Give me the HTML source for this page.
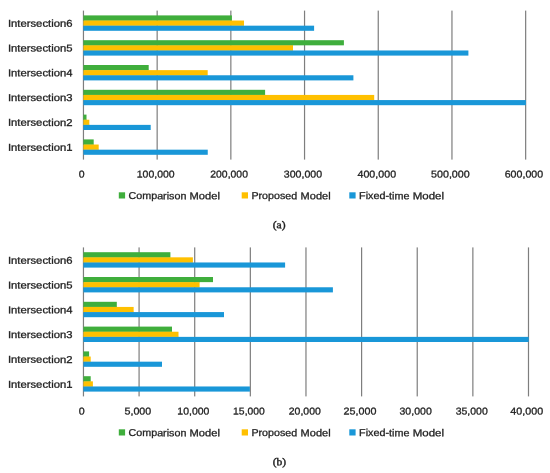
<!DOCTYPE html><html><head><meta charset="utf-8"><title>Figure</title><style>html,body{margin:0;padding:0;background:#fff}svg{display:block}text{font-family:"Liberation Sans",sans-serif;fill:#1f1f1f;stroke:#1f1f1f;stroke-width:0.3px}.s{font-family:"Liberation Serif",serif;stroke-width:0.4px}</style></head><body>
<svg width="550" height="473" viewBox="0 0 550 473">
<rect width="550" height="473" fill="#fff"/>
<rect x="82.85" y="10.60" width="1.2" height="149.00" fill="#7e7e7e"/>
<rect x="156.55" y="10.60" width="1.2" height="149.00" fill="#7e7e7e"/>
<rect x="230.25" y="10.60" width="1.2" height="149.00" fill="#7e7e7e"/>
<rect x="303.95" y="10.60" width="1.2" height="149.00" fill="#7e7e7e"/>
<rect x="377.65" y="10.60" width="1.2" height="149.00" fill="#7e7e7e"/>
<rect x="451.35" y="10.60" width="1.2" height="149.00" fill="#7e7e7e"/>
<rect x="525.05" y="10.60" width="1.2" height="149.00" fill="#7e7e7e"/>
<rect x="83.40" y="20.23" width="148.50" height="0.60" fill="#3FAE3C"/>
<rect x="83.40" y="15.40" width="148.50" height="5.13" fill="#3FAE3C"/>
<rect x="83.40" y="25.37" width="160.60" height="0.60" fill="#FFC000"/>
<rect x="83.40" y="20.53" width="160.60" height="5.13" fill="#FFC000"/>
<rect x="83.40" y="25.67" width="230.70" height="5.13" fill="#1997D8"/>
<text transform="translate(7.90 26.65) skewY(0.05)" font-size="10.00" textLength="64.60" lengthAdjust="spacingAndGlyphs">Intersection6</text>
<rect x="83.40" y="45.03" width="209.60" height="0.60" fill="#3FAE3C"/>
<rect x="83.40" y="40.20" width="260.50" height="5.13" fill="#3FAE3C"/>
<rect x="83.40" y="50.17" width="209.60" height="0.60" fill="#FFC000"/>
<rect x="83.40" y="45.33" width="209.60" height="5.13" fill="#FFC000"/>
<rect x="83.40" y="50.47" width="385.00" height="5.13" fill="#1997D8"/>
<text transform="translate(7.90 51.45) skewY(0.05)" font-size="10.00" textLength="64.60" lengthAdjust="spacingAndGlyphs">Intersection5</text>
<rect x="83.40" y="69.83" width="65.30" height="0.60" fill="#3FAE3C"/>
<rect x="83.40" y="65.00" width="65.30" height="5.13" fill="#3FAE3C"/>
<rect x="83.40" y="74.97" width="124.30" height="0.60" fill="#FFC000"/>
<rect x="83.40" y="70.13" width="124.30" height="5.13" fill="#FFC000"/>
<rect x="83.40" y="75.27" width="270.00" height="5.13" fill="#1997D8"/>
<text transform="translate(7.90 76.25) skewY(0.05)" font-size="10.00" textLength="64.60" lengthAdjust="spacingAndGlyphs">Intersection4</text>
<rect x="83.40" y="94.63" width="181.70" height="0.60" fill="#3FAE3C"/>
<rect x="83.40" y="89.80" width="181.70" height="5.13" fill="#3FAE3C"/>
<rect x="83.40" y="99.77" width="290.80" height="0.60" fill="#FFC000"/>
<rect x="83.40" y="94.93" width="290.80" height="5.13" fill="#FFC000"/>
<rect x="83.40" y="100.07" width="442.50" height="5.13" fill="#1997D8"/>
<text transform="translate(7.90 101.05) skewY(0.05)" font-size="10.00" textLength="64.60" lengthAdjust="spacingAndGlyphs">Intersection3</text>
<rect x="83.40" y="119.43" width="3.10" height="0.60" fill="#3FAE3C"/>
<rect x="83.40" y="114.60" width="3.10" height="5.13" fill="#3FAE3C"/>
<rect x="83.40" y="124.57" width="5.90" height="0.60" fill="#FFC000"/>
<rect x="83.40" y="119.73" width="5.90" height="5.13" fill="#FFC000"/>
<rect x="83.40" y="124.87" width="67.30" height="5.13" fill="#1997D8"/>
<text transform="translate(7.90 125.85) skewY(0.05)" font-size="10.00" textLength="64.60" lengthAdjust="spacingAndGlyphs">Intersection2</text>
<rect x="83.40" y="144.23" width="10.30" height="0.60" fill="#3FAE3C"/>
<rect x="83.40" y="139.40" width="10.30" height="5.13" fill="#3FAE3C"/>
<rect x="83.40" y="149.37" width="15.30" height="0.60" fill="#FFC000"/>
<rect x="83.40" y="144.53" width="15.30" height="5.13" fill="#FFC000"/>
<rect x="83.40" y="149.67" width="124.35" height="5.13" fill="#1997D8"/>
<text transform="translate(7.90 150.65) skewY(0.05)" font-size="10.00" textLength="64.60" lengthAdjust="spacingAndGlyphs">Intersection1</text>
<text transform="translate(78.85 177.55) skewY(0.05)" font-size="10.00" textLength="5.85" lengthAdjust="spacingAndGlyphs">0</text>
<text transform="translate(136.75 177.55) skewY(0.05)" font-size="10.00" textLength="37.95" lengthAdjust="spacingAndGlyphs">100,000</text>
<text transform="translate(210.25 177.55) skewY(0.05)" font-size="10.00" textLength="37.70" lengthAdjust="spacingAndGlyphs">200,000</text>
<text transform="translate(283.75 177.55) skewY(0.05)" font-size="10.00" textLength="38.45" lengthAdjust="spacingAndGlyphs">300,000</text>
<text transform="translate(357.45 177.55) skewY(0.05)" font-size="10.00" textLength="38.65" lengthAdjust="spacingAndGlyphs">400,000</text>
<text transform="translate(430.95 177.55) skewY(0.05)" font-size="10.00" textLength="38.85" lengthAdjust="spacingAndGlyphs">500,000</text>
<text transform="translate(504.65 177.55) skewY(0.05)" font-size="10.00" textLength="38.55" lengthAdjust="spacingAndGlyphs">600,000</text>
<rect x="118.80" y="192.30" width="6.3" height="6.2" fill="#3FAE3C"/>
<text transform="translate(128.50 199.10) skewY(0.05)" font-size="10.00"><tspan x="0.00" textLength="57.90" lengthAdjust="spacingAndGlyphs">Comparison</tspan> <tspan x="61.00" textLength="30.40" lengthAdjust="spacingAndGlyphs">Model</tspan></text>
<rect x="241.70" y="192.30" width="6.3" height="6.2" fill="#FFC000"/>
<text transform="translate(251.40 199.10) skewY(0.05)" font-size="10.00"><tspan x="0.00" textLength="45.80" lengthAdjust="spacingAndGlyphs">Proposed</tspan> <tspan x="49.20" textLength="30.00" lengthAdjust="spacingAndGlyphs">Model</tspan></text>
<rect x="349.30" y="192.30" width="6.3" height="6.2" fill="#1997D8"/>
<text transform="translate(359.10 199.10) skewY(0.05)" font-size="10.00"><tspan x="0.00" textLength="50.40" lengthAdjust="spacingAndGlyphs">Fixed-time</tspan> <tspan x="53.60" textLength="31.40" lengthAdjust="spacingAndGlyphs">Model</tspan></text>
<text class="s" transform="translate(272.70 228.15) skewY(0.05)" font-size="10.40" textLength="12.90" lengthAdjust="spacingAndGlyphs">(a)</text>
<rect x="82.85" y="247.40" width="1.2" height="149.00" fill="#7e7e7e"/>
<rect x="138.48" y="247.40" width="1.2" height="149.00" fill="#7e7e7e"/>
<rect x="194.11" y="247.40" width="1.2" height="149.00" fill="#7e7e7e"/>
<rect x="249.74" y="247.40" width="1.2" height="149.00" fill="#7e7e7e"/>
<rect x="305.37" y="247.40" width="1.2" height="149.00" fill="#7e7e7e"/>
<rect x="361.00" y="247.40" width="1.2" height="149.00" fill="#7e7e7e"/>
<rect x="416.63" y="247.40" width="1.2" height="149.00" fill="#7e7e7e"/>
<rect x="472.26" y="247.40" width="1.2" height="149.00" fill="#7e7e7e"/>
<rect x="527.89" y="247.40" width="1.2" height="149.00" fill="#7e7e7e"/>
<rect x="83.40" y="257.03" width="87.00" height="0.60" fill="#3FAE3C"/>
<rect x="83.40" y="252.20" width="87.00" height="5.13" fill="#3FAE3C"/>
<rect x="83.40" y="262.17" width="109.50" height="0.60" fill="#FFC000"/>
<rect x="83.40" y="257.33" width="109.50" height="5.13" fill="#FFC000"/>
<rect x="83.40" y="262.47" width="201.70" height="5.13" fill="#1997D8"/>
<text transform="translate(7.90 263.65) skewY(0.05)" font-size="10.00" textLength="64.60" lengthAdjust="spacingAndGlyphs">Intersection6</text>
<rect x="83.40" y="281.83" width="116.20" height="0.60" fill="#3FAE3C"/>
<rect x="83.40" y="277.00" width="129.60" height="5.13" fill="#3FAE3C"/>
<rect x="83.40" y="286.97" width="116.20" height="0.60" fill="#FFC000"/>
<rect x="83.40" y="282.13" width="116.20" height="5.13" fill="#FFC000"/>
<rect x="83.40" y="287.27" width="249.50" height="5.13" fill="#1997D8"/>
<text transform="translate(7.90 288.45) skewY(0.05)" font-size="10.00" textLength="64.60" lengthAdjust="spacingAndGlyphs">Intersection5</text>
<rect x="83.40" y="306.63" width="33.40" height="0.60" fill="#3FAE3C"/>
<rect x="83.40" y="301.80" width="33.40" height="5.13" fill="#3FAE3C"/>
<rect x="83.40" y="311.77" width="50.25" height="0.60" fill="#FFC000"/>
<rect x="83.40" y="306.93" width="50.25" height="5.13" fill="#FFC000"/>
<rect x="83.40" y="312.07" width="140.60" height="5.13" fill="#1997D8"/>
<text transform="translate(7.90 313.25) skewY(0.05)" font-size="10.00" textLength="64.60" lengthAdjust="spacingAndGlyphs">Intersection4</text>
<rect x="83.40" y="331.43" width="88.60" height="0.60" fill="#3FAE3C"/>
<rect x="83.40" y="326.60" width="88.60" height="5.13" fill="#3FAE3C"/>
<rect x="83.40" y="336.57" width="95.10" height="0.60" fill="#FFC000"/>
<rect x="83.40" y="331.73" width="95.10" height="5.13" fill="#FFC000"/>
<rect x="83.40" y="336.87" width="445.30" height="5.13" fill="#1997D8"/>
<text transform="translate(7.90 338.05) skewY(0.05)" font-size="10.00" textLength="64.60" lengthAdjust="spacingAndGlyphs">Intersection3</text>
<rect x="83.40" y="356.23" width="5.70" height="0.60" fill="#3FAE3C"/>
<rect x="83.40" y="351.40" width="5.70" height="5.13" fill="#3FAE3C"/>
<rect x="83.40" y="361.37" width="7.30" height="0.60" fill="#FFC000"/>
<rect x="83.40" y="356.53" width="7.30" height="5.13" fill="#FFC000"/>
<rect x="83.40" y="361.67" width="78.60" height="5.13" fill="#1997D8"/>
<text transform="translate(7.90 362.85) skewY(0.05)" font-size="10.00" textLength="64.60" lengthAdjust="spacingAndGlyphs">Intersection2</text>
<rect x="83.40" y="381.03" width="7.30" height="0.60" fill="#3FAE3C"/>
<rect x="83.40" y="376.20" width="7.30" height="5.13" fill="#3FAE3C"/>
<rect x="83.40" y="386.17" width="9.50" height="0.60" fill="#FFC000"/>
<rect x="83.40" y="381.33" width="9.50" height="5.13" fill="#FFC000"/>
<rect x="83.40" y="386.47" width="166.50" height="5.13" fill="#1997D8"/>
<text transform="translate(7.90 387.65) skewY(0.05)" font-size="10.00" textLength="64.60" lengthAdjust="spacingAndGlyphs">Intersection1</text>
<text transform="translate(78.75 414.55) skewY(0.05)" font-size="10.00" textLength="5.95" lengthAdjust="spacingAndGlyphs">0</text>
<text transform="translate(124.45 414.55) skewY(0.05)" font-size="10.00" textLength="26.85" lengthAdjust="spacingAndGlyphs">5,000</text>
<text transform="translate(177.35 414.55) skewY(0.05)" font-size="10.00" textLength="32.05" lengthAdjust="spacingAndGlyphs">10,000</text>
<text transform="translate(233.10 414.55) skewY(0.05)" font-size="10.00" textLength="31.70" lengthAdjust="spacingAndGlyphs">15,000</text>
<text transform="translate(288.75 414.55) skewY(0.05)" font-size="10.00" textLength="32.15" lengthAdjust="spacingAndGlyphs">20,000</text>
<text transform="translate(343.45 414.55) skewY(0.05)" font-size="10.00" textLength="32.95" lengthAdjust="spacingAndGlyphs">25,000</text>
<text transform="translate(399.45 414.55) skewY(0.05)" font-size="10.00" textLength="32.35" lengthAdjust="spacingAndGlyphs">30,000</text>
<text transform="translate(455.65 414.55) skewY(0.05)" font-size="10.00" textLength="32.15" lengthAdjust="spacingAndGlyphs">35,000</text>
<text transform="translate(510.35 414.55) skewY(0.05)" font-size="10.00" textLength="32.95" lengthAdjust="spacingAndGlyphs">40,000</text>
<rect x="118.80" y="429.30" width="6.3" height="6.2" fill="#3FAE3C"/>
<text transform="translate(128.50 436.10) skewY(0.05)" font-size="10.00"><tspan x="0.00" textLength="57.90" lengthAdjust="spacingAndGlyphs">Comparison</tspan> <tspan x="61.00" textLength="30.40" lengthAdjust="spacingAndGlyphs">Model</tspan></text>
<rect x="241.70" y="429.30" width="6.3" height="6.2" fill="#FFC000"/>
<text transform="translate(251.40 436.10) skewY(0.05)" font-size="10.00"><tspan x="0.00" textLength="45.80" lengthAdjust="spacingAndGlyphs">Proposed</tspan> <tspan x="49.20" textLength="30.00" lengthAdjust="spacingAndGlyphs">Model</tspan></text>
<rect x="349.30" y="429.30" width="6.3" height="6.2" fill="#1997D8"/>
<text transform="translate(359.10 436.10) skewY(0.05)" font-size="10.00"><tspan x="0.00" textLength="50.40" lengthAdjust="spacingAndGlyphs">Fixed-time</tspan> <tspan x="53.60" textLength="31.40" lengthAdjust="spacingAndGlyphs">Model</tspan></text>
<text class="s" transform="translate(272.70 465.15) skewY(0.05)" font-size="10.40" textLength="13.40" lengthAdjust="spacingAndGlyphs">(b)</text>
</svg></body></html>
